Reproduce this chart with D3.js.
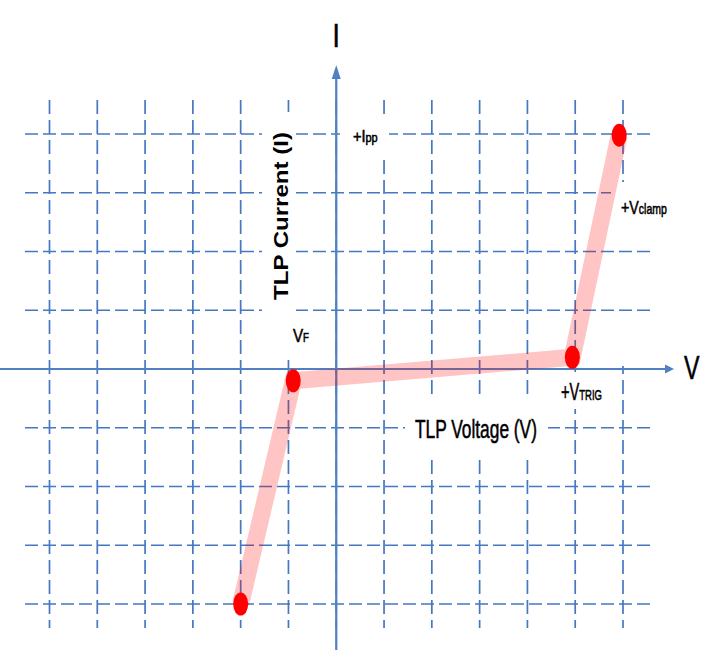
<!DOCTYPE html>
<meta charset="utf-8">
<title>TLP I-V curve</title>
<script src="https://cdn.jsdelivr.net/npm/d3@7"></script>
<style>
    body { margin: 0; background: #fff; }
    svg { display: block; }
    text { font-family: "Liberation Sans", Arial, sans-serif; fill: #000; }
    text.heavy { stroke: #000; stroke-width: 0.55px; }
</style>
<body>
<div id="chart"></div>
<script>
    // grid lines, in grid units (V across, I up)
    var gridV = [-6, -5, -4, -3, -2, -1, 0, 1, 2, 3, 4, 5, 6];
    var gridI = [-4, -3, -2, -1, 0, 1, 2, 3, 4];

    // the trace: reverse end, VF, +VTRIG, +Vclamp / +Ipp
    var traceV = [-2.0, -0.9, 4.94, 5.92];
    var traceI = [-4.0, -0.2, 0.2, 3.98];

    var axisNames = ["V", "I"];
    var titleV = "TLP Voltage (V)";
    var titleI = "TLP Current (I)";

    var width = 716, height = 653;
    var gridColor = "#4677c2", axisColor = "#4f81c2";

    var svg = d3.select("#chart").append("svg")
        .attr("width", width)
        .attr("height", height);

    var x = d3.scaleLinear().domain([-6, 6]).range([49.5, 623]);
    var y = d3.scaleLinear().domain([-4, 4]).range([604, 134]);

    // vertical grid
    svg.append("g").selectAll("line")
        .data(gridV)
        .enter().append("line")
        .attr("x1", function (d) { return x(d); })
        .attr("x2", function (d) { return x(d); })
        .attr("y1", 100)
        .attr("y2", 628)
        .attr("stroke", gridColor)
        .attr("stroke-width", 1.7)
        .attr("stroke-dasharray", "14,6");

    // the far right line is broken below +Vclamp
    svg.append("rect")
        .attr("x", x(6) - 3).attr("y", 232)
        .attr("width", 6).attr("height", 134)
        .attr("fill", "#fff");

    // horizontal grid
    svg.append("g").selectAll("line")
        .data(gridI)
        .enter().append("line")
        .attr("x1", 25)
        .attr("x2", 655)
        .attr("y1", function (d) { return y(d); })
        .attr("y2", function (d) { return y(d); })
        .attr("stroke", gridColor)
        .attr("stroke-width", 1.7)
        .attr("stroke-dasharray", "13,5");

    // white text boxes that sit over the grid
    var boxes = [[262, 112, 34, 204], [266, 316, 67, 42], [340, 114, 49, 42],
                 [611, 182, 49, 50], [553, 372, 60, 37], [405, 400, 143, 57]];
    svg.append("g").selectAll("rect")
        .data(boxes)
        .enter().append("rect")
        .attr("x", function (d) { return d[0]; })
        .attr("y", function (d) { return d[1]; })
        .attr("width", function (d) { return d[2]; })
        .attr("height", function (d) { return d[3]; })
        .attr("fill", "#fff");

    // axes with arrow heads
    var x0 = x(0), y0 = y(0);
    svg.append("line")
        .attr("x1", 0).attr("x2", 666)
        .attr("y1", y0).attr("y2", y0)
        .attr("stroke", axisColor).attr("stroke-width", 2.2);
    svg.append("polygon")
        .attr("points", [[674, y0], [665, y0 - 4.5], [665, y0 + 4.5]].join(" "))
        .attr("fill", axisColor);
    svg.append("line")
        .attr("x1", x0).attr("x2", x0)
        .attr("y1", 650).attr("y2", 78)
        .attr("stroke", axisColor).attr("stroke-width", 2.2);
    svg.append("polygon")
        .attr("points", [[x0, 65], [x0 - 4.5, 79], [x0 + 4.5, 79]].join(" "))
        .attr("fill", axisColor);

    // the pink band
    var pts = traceV.map(function (v, i) { return [x(v), y(traceI[i])]; });
    svg.append("path")
        .attr("d", d3.line()(pts))
        .attr("fill", "none")
        .attr("stroke", "#ff0000")
        .attr("stroke-opacity", 0.23)
        .attr("stroke-width", 17)
        .attr("stroke-linejoin", "miter");

    // dots
    svg.append("g").selectAll("ellipse")
        .data(pts)
        .enter().append("ellipse")
        .attr("cx", function (d) { return d[0]; })
        .attr("cy", function (d) { return d[1]; })
        .attr("rx", 7.5)
        .attr("ry", 11.5)
        .attr("fill", "#ff0000");

    // labels: text squeezed sideways to a set width (or scale)
    function addLabel(parts, o) {
        var t = svg.append("text")
            .attr("class", o.bold ? null : "heavy")
            .attr("font-weight", o.bold ? "bold" : "normal")
            .attr("text-anchor", o.anchor || "start");
        parts.forEach(function (p) {
            t.append("tspan").attr("font-size", p[1]).text(p[0]);
        });
        var w = t.node().getBBox().width;
        var s = o.w ? o.w / w : o.s;
        t.attr("transform", "translate(" + o.x + "," + o.y + ")" +
            (o.rot ? " rotate(" + o.rot + ")" : "") + " scale(" + s + ",1)");
    }

    addLabel([[axisNames[1], 33]], { x: x0, y: 47.3, s: 0.8, anchor: "middle" });
    addLabel([[axisNames[0], 33]], { x: 684, y: 378.5, w: 15.5 });
    addLabel([["+I", 16], ["pp", 12]], { x: 353, y: 142, w: 25 });
    addLabel([["+V", 19], ["clamp", 14]], { x: 621, y: 214, w: 46 });
    addLabel([["+V", 23], ["TRIG", 15]], { x: 561, y: 399.5, w: 41 });
    addLabel([["V", 19], ["F", 12]], { x: 293, y: 341.7, w: 16 });
    addLabel([[titleV, 25.5]], { x: 415, y: 438.3, w: 122 });
    addLabel([[titleI, 21]], { x: 288.3, y: 300, w: 168, rot: -90, bold: true });
</script>
</body>
